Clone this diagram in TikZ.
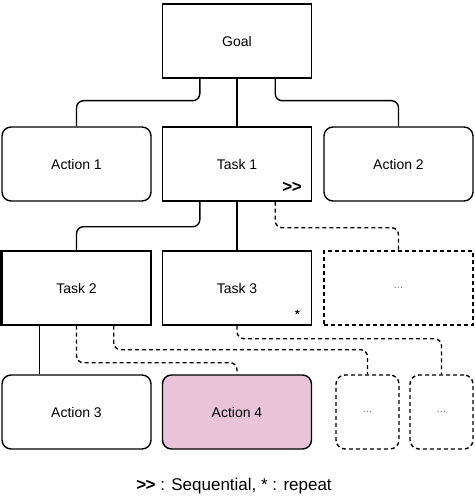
\documentclass[tikz,border=0pt]{standalone}
\usepackage{fontspec}
\setmainfont{Liberation Sans}
\usetikzlibrary{calc}
\definecolor{pinkfill}{HTML}{E9C4D8}
\definecolor{dotgray}{HTML}{777777}
\newcommand{\seqmark}{{>}\kern-0.5pt{>}}
\begin{document}
\begin{tikzpicture}[x=1pt,y=-1pt,
  every node/.style={font=\fontsize{14}{16}\selectfont},
  taskbox/.style={draw, line width=1.4pt, minimum width=149pt, minimum height=74pt, inner sep=0pt},
  actbox/.style={taskbox, rounded corners=9pt},
  dashbox/.style={draw, line width=1.4pt, dash pattern=on 4pt off 3pt, inner sep=0pt, minimum height=74pt, font=\fontsize{11}{12}\selectfont, text=dotgray},
  conn/.style={line width=1.4pt, rounded corners=7pt},
  dconn/.style={conn, dash pattern=on 4pt off 3pt},
  markertext/.style={font=\bfseries\fontsize{17}{18}\selectfont}
]
\useasboundingbox (0,0) rectangle (474,497);
% row 1
\node[taskbox] (goal) at (237,41) {Goal};
% row 2
\node[actbox] (a1) at (76.5,164) {Action 1};
\node[taskbox] (t1) at (237,164) {Task 1};
\node[actbox] (a2) at (398.5,164) {Action 2};
% row 3
\node[taskbox] (t2) at (76.5,288) {Task 2};
\node[taskbox] (t3) at (237,288) {Task 3};
\node[dashbox, minimum width=149pt] (d1) at (398.5,288) {...};
% row 4
\node[actbox] (a3) at (76.5,412) {Action 3};
\node[actbox, fill=pinkfill] (a4) at (237,412) {Action 4};
\node[dashbox, rounded corners=9pt, minimum width=63pt] (d2) at (367.5,412) {...};
\node[dashbox, rounded corners=9pt, minimum width=63pt] (d3) at (441.5,412) {...};
% thick left edge of Task 2
\draw[line width=3pt] ($(t2.south west)+(0.5,0)$) -- ($(t2.north west)+(0.5,0)$);
% markers
\node[markertext, anchor=south east] (seq) at ($(t1.south east)+(-7,-6)$) {\seqmark};
\node[font=\bfseries\fontsize{12}{13}\selectfont, anchor=south east] (rep) at ($(t3.south east)+(-9,-4)$) {*};
% connectors
\draw[conn] ($(goal.south west)+(38,0)$) -- ++(0,22) -| (a1.north);
\draw[conn] (goal.south) -- (t1.north);
\draw[conn] ($(goal.south east)+(-37,0)$) -- ++(0,22) -| (a2.north);
\draw[conn] ($(t1.south west)+(38,0)$) -- ++(0,25) -| (t2.north);
\draw[conn] (t1.south) -- (t3.north);
\draw[dconn] ($(t1.south east)+(-37,0)$) -- ++(0,26) -| (d1.north);
\draw[conn] ($(t2.south west)+(38,0)$) -- ($(a3.north west)+(38,0)$);
\draw[dconn] (t2.south) -- ++(0,37) -| (a4.north);
\draw[dconn] ($(t2.south east)+(-38,0)$) -- ++(0,24) -| (d2.north);
\draw[dconn] (t3.south) -- ++(0,13) -| (d3.north);
% legend
\node[font=\fontsize{17}{19}\selectfont] (legend) at (234,486) {\textbf{\seqmark} : Sequential, * : repeat};
\end{tikzpicture}
\end{document}
